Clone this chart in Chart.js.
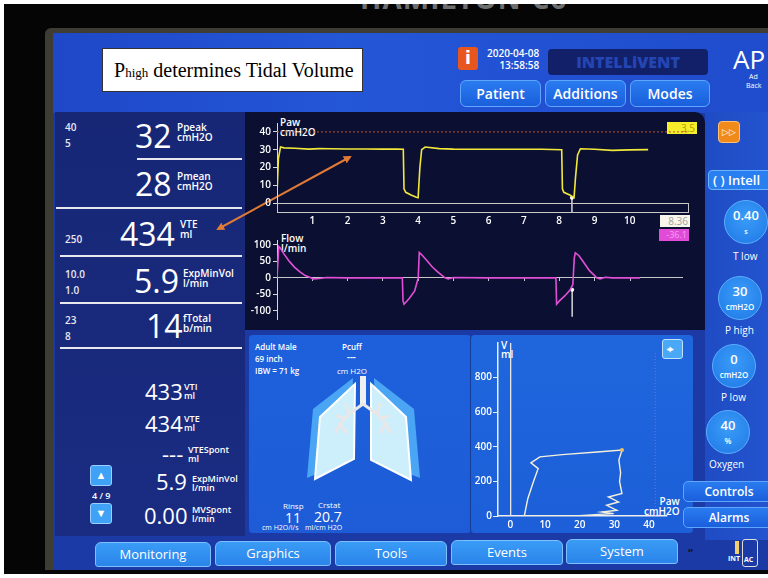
<!DOCTYPE html>
<html><head><meta charset="utf-8">
<script src="https://cdn.jsdelivr.net/npm/chart.js@4.4.1/dist/chart.umd.min.js"></script>
<style>
html,body{margin:0;padding:0;background:#fff;width:768px;height:578px;overflow:hidden;}
#photo{position:absolute;left:4px;top:4px;width:764px;height:570px;background:#050505;overflow:hidden;}
.abs{position:absolute;}
.t{position:absolute;color:#fff;font-family:"Open Sans",sans-serif;white-space:nowrap;}
.big{font-family:"Open Sans",sans-serif;font-weight:500;color:#fff;position:absolute;white-space:nowrap;line-height:1;}
.lbl{font-size:10px;font-weight:600;line-height:10px;}
.lim{font-size:10px;font-weight:600;color:#e8e8f0;}
.sep{position:absolute;height:2px;background:#e8e8ee;}
.btn{position:absolute;border-radius:6px;background:linear-gradient(#2a7bf0,#1a5fdc);border:1px solid #5fa6ff;color:#fff;font-family:"Open Sans",sans-serif;font-weight:600;font-size:14px;text-align:center;box-sizing:border-box;}
.tab{position:absolute;border-radius:6px 6px 3px 3px;background:linear-gradient(#3a9cf6,#2a84ea);border:1px solid #7cc0ff;color:#fff;font-family:"Open Sans",sans-serif;font-size:13px;text-align:center;box-sizing:border-box;}
.circ{position:absolute;border-radius:50%;background:radial-gradient(circle at 50% 40%,#3a9cf8,#1f78e6);border:1px solid #5cb0ff;color:#fff;font-family:"Open Sans",sans-serif;text-align:center;box-sizing:border-box;}
canvas{position:absolute;}
</style></head>
<body>
<div id="photo">
  <!-- brand text on bezel -->
  <div class="t" style="left:356px;top:-25px;font-size:28px;font-weight:700;color:#6e6e6e;letter-spacing:1px;">HAMILTON-C6</div>
  <!-- bezel frame -->
  <div class="abs" style="left:41px;top:24px;width:730px;height:560px;background:#3d3d33;border-radius:6px 0 0 0;"></div>
  <!-- screen -->
  <div class="abs" style="left:49px;top:29px;width:720px;height:540px;background:#1c3aa6;"></div>
  <!-- header -->
  <div class="abs" style="left:49px;top:29px;width:720px;height:80px;background:linear-gradient(90deg,#1e48c8,#2456d8 40%,#1f4ccc);"></div>
  <!-- label box -->
  <div class="abs" style="left:98px;top:44px;width:261px;height:44px;background:#fff;border:1px solid #333;box-sizing:border-box;font-family:'Liberation Serif',serif;font-size:20px;color:#000;line-height:42px;padding-left:11px;white-space:nowrap;">P<span style="font-size:13px;">high</span> determines Tidal Volume</div>
  <!-- info icon -->
  <div class="abs" style="left:454px;top:43px;width:20px;height:23px;background:#e8561f;border-radius:3px;color:#fff;font-family:'DejaVu Sans';font-weight:700;font-size:17px;text-align:center;line-height:23px;">i</div>
  <div class="t" style="left:483px;top:43px;font-size:10px;font-weight:600;line-height:12px;text-align:right;">2020-04-08<br>13:58:58</div>
  <div class="abs" style="left:544px;top:45px;width:160px;height:26px;background:#12206a;border-radius:4px;color:#2446b4;font-family:'Open Sans';font-weight:800;font-size:16px;text-align:center;line-height:26px;">INTELLiVENT</div>
  <div class="t" style="left:729px;top:37px;font-size:26px;font-weight:500;">AP</div>
  <div class="t" style="left:745px;top:68px;font-size:7px;">Ad</div>
  <div class="t" style="left:742px;top:77px;font-size:7px;">Back</div>
  <div class="btn" style="left:456px;top:76px;width:81px;height:27px;line-height:25px;">Patient</div>
  <div class="btn" style="left:541px;top:76px;width:81px;height:27px;line-height:25px;">Additions</div>
  <div class="btn" style="left:626px;top:76px;width:80px;height:27px;line-height:25px;">Modes</div>

  <!-- left panel -->
  <div class="abs" style="left:51px;top:108px;width:190px;height:424px;background:linear-gradient(#172776,#1a2c82);"></div>
  <div class="t lim" style="left:61px;top:116px;">40</div>
  <div class="t lim" style="left:61px;top:132px;">5</div>
  <div class="big" style="left:131px;top:116px;font-size:32px;">32</div>
  <div class="t lbl" style="left:173px;top:118px;">Ppeak<br>cmH2O</div>
  <div class="sep" style="left:133px;top:154px;width:105px;"></div>
  <div class="big" style="left:131px;top:164px;font-size:32px;">28</div>
  <div class="t lbl" style="left:173px;top:167px;">Pmean<br>cmH2O</div>
  <div class="sep" style="left:52px;top:203px;width:186px;"></div>
  <div class="t lim" style="left:61px;top:228px;">250</div>
  <div class="big" style="left:116px;top:214px;font-size:32px;">434</div>
  <div class="t lbl" style="left:176px;top:215px;">VTE<br>ml</div>
  <div class="sep" style="left:56px;top:251px;width:182px;"></div>
  <div class="t lim" style="left:61px;top:263px;">10.0</div>
  <div class="t lim" style="left:61px;top:279px;">1.0</div>
  <div class="big" style="left:130px;top:261px;font-size:32px;">5.9</div>
  <div class="t lbl" style="left:179px;top:264px;">ExpMinVol<br>l/min</div>
  <div class="sep" style="left:56px;top:298px;width:182px;"></div>
  <div class="t lim" style="left:61px;top:309px;">23</div>
  <div class="t lim" style="left:61px;top:325px;">8</div>
  <div class="big" style="left:142px;top:306px;font-size:32px;">14</div>
  <div class="t lbl" style="left:179px;top:309px;">fTotal<br>b/min</div>
  <div class="sep" style="left:56px;top:343px;width:182px;"></div>

  <div class="big" style="left:141px;top:376px;font-size:22px;">433</div>
  <div class="t lbl" style="left:180px;top:378px;font-size:9px;line-height:9px;">VTI<br>ml</div>
  <div class="big" style="left:141px;top:408px;font-size:22px;">434</div>
  <div class="t lbl" style="left:180px;top:410px;font-size:9px;line-height:9px;">VTE<br>ml</div>
  <div class="big" style="left:158px;top:438px;font-size:22px;">---</div>
  <div class="t lbl" style="left:184px;top:441px;font-size:9px;line-height:9px;">VTESpont<br>ml</div>
  <div class="big" style="left:152px;top:466px;font-size:22px;">5.9</div>
  <div class="t lbl" style="left:188px;top:470px;font-size:9px;line-height:9px;">ExpMinVol<br>l/min</div>
  <div class="big" style="left:140px;top:500px;font-size:22px;">0.00</div>
  <div class="t lbl" style="left:188px;top:501px;font-size:9px;line-height:9px;">MVSpont<br>l/min</div>
  <div class="abs" style="left:86px;top:461px;width:20px;height:19px;background:#3fa2f6;border:1px solid #9ad0ff;border-radius:3px;color:#fff;font-size:11px;text-align:center;line-height:19px;">&#9650;</div>
  <div class="t" style="left:88px;top:485px;font-size:9px;font-weight:600;">4 / 9</div>
  <div class="abs" style="left:86px;top:499px;width:20px;height:19px;background:#3fa2f6;border:1px solid #9ad0ff;border-radius:3px;color:#fff;font-size:11px;text-align:center;line-height:19px;">&#9660;</div>

  <!-- waveform panel -->
  <div class="abs" style="left:241px;top:108px;width:460px;height:218px;background:#0b1032;border-radius:0 10px 0 0;"></div>
  <div class="t" style="left:276px;top:113px;font-size:10px;font-weight:600;line-height:10px;">Paw<br>cmH2O</div>
  <div class="t" style="left:277px;top:229px;font-size:10px;font-weight:600;line-height:10px;">Flow<br>l/min</div>
  <div class="abs" style="left:663px;top:118px;width:30px;height:12px;background:#f6ee2a;color:#b0a000;font-size:10px;font-family:'Open Sans';text-align:right;line-height:12px;padding-right:2px;box-sizing:border-box;">3.5</div>
  <div class="abs" style="left:656px;top:211px;width:30px;height:12px;background:#f8f6ea;color:#a0a0a0;font-size:10px;font-family:'Open Sans';text-align:right;line-height:12px;padding-right:2px;box-sizing:border-box;">8.36</div>
  <div class="abs" style="left:655px;top:225px;width:30px;height:12px;background:#e24ad8;color:#f0a0f0;font-size:9px;font-family:'Open Sans';text-align:right;line-height:12px;padding-right:2px;box-sizing:border-box;">-36.1</div>

  <!-- lung panel -->
  <div class="abs" style="left:245px;top:331px;width:222px;height:198px;background:linear-gradient(#1e60dc,#1d5cd6);border-radius:4px;"></div>
  <div class="t" style="left:251px;top:337px;font-size:8px;font-weight:600;line-height:12px;">Adult Male<br>69 inch<br>IBW = 71 kg</div>
  <div class="t" style="left:338px;top:337px;font-size:8px;font-weight:600;">Pcuff</div>
  <div class="t" style="left:343px;top:346px;font-size:9px;font-weight:700;">---</div>
  <div class="t" style="left:333px;top:361px;font-size:8px;">cm H2O</div>
  <svg class="abs" style="left:245px;top:331px;" width="222" height="198" viewBox="245 331 222 198">
    <polygon points="349,374 309,405 303,474 346,456" fill="#4aa6f4"/>
    <polygon points="370,374 410,405 416,474 372,457" fill="#4aa6f4"/>
    <polygon points="351,380 316,413 311,475 350,455" fill="#cdeefb" stroke="#fff" stroke-width="2"/>
    <polygon points="367,380 402,413 407,476 367,456" fill="#cdeefb" stroke="#fff" stroke-width="2"/>
    <rect x="356" y="372" width="6" height="30" fill="#f0f0f0"/>
    <path d="M359,400 L345,410 L336,420 M345,410 L342,400 M336,420 L332,428 M336,420 L342,428 M340,414 L333,412 M359,400 L373,410 L382,420 M373,410 L376,400 M382,420 L386,428 M382,420 L376,428 M378,414 L385,412" stroke="#e8e8e8" stroke-width="3" fill="none" stroke-linecap="round"/>
  </svg>
  <div class="t" style="left:279px;top:496px;font-size:8px;">Rinsp</div>
  <div class="t" style="left:314px;top:495px;font-size:8px;">Crstat</div>
  <div class="t" style="left:281px;top:504px;font-size:14px;font-weight:500;">11</div>
  <div class="t" style="left:310px;top:503px;font-size:14px;font-weight:500;">20.7</div>
  <div class="t" style="left:258px;top:519px;font-size:7px;">cm H2O/l/s</div>
  <div class="t" style="left:301px;top:519px;font-size:7px;">ml/cm H2O</div>

  <!-- loop panel -->
  <div class="abs" style="left:466px;top:331px;width:222px;height:198px;background:linear-gradient(#1f66dd,#1c5fd8);border-radius:4px;border-left:1px solid #163c9a;"></div>
  <div class="abs" style="left:658px;top:335px;width:19px;height:18px;background:#49a9f6;border:1px solid #bfe2ff;border-radius:3px;"></div>
  <div class="t" style="left:663px;top:337px;font-size:11px;font-weight:700;">&#8982;</div>
  <div class="t" style="left:497px;top:337px;font-size:10px;font-weight:600;line-height:9px;">V<br>ml</div>
  <div class="t" style="left:640px;top:492px;font-size:10px;font-weight:600;line-height:10px;text-align:right;">Paw<br>cmH2O</div>

  <!-- right column -->
  <div class="abs" style="left:701px;top:108px;width:70px;height:428px;background:linear-gradient(90deg,#1f4cc4,#2454d0);"></div>
  <div class="abs" style="left:714px;top:117px;width:20px;height:20px;background:#f08a1a;border:1px solid #ffc070;border-radius:4px;color:#fff;font-size:9px;text-align:center;line-height:20px;">&#9655;&#9655;</div>
  <div class="abs" style="left:704px;top:166px;width:70px;height:20px;background:#2a7ff0;border:1px solid #6ab4ff;border-radius:4px;color:#fff;font-family:'Open Sans';font-weight:600;font-size:13px;line-height:19px;padding-left:4px;box-sizing:border-box;">( ) Intell</div>
  <div class="circ" style="left:720px;top:196px;width:44px;height:44px;font-size:13px;font-weight:600;padding-top:7px;line-height:14px;">0.40<br><span style="font-size:7px;">s</span></div>
  <div class="t" style="left:729px;top:245px;font-size:10px;">T low</div>
  <div class="circ" style="left:714px;top:272px;width:44px;height:44px;font-size:13px;font-weight:600;padding-top:7px;line-height:14px;">30<br><span style="font-size:8px;">cmH2O</span></div>
  <div class="t" style="left:721px;top:319px;font-size:10px;">P high</div>
  <div class="circ" style="left:708px;top:340px;width:44px;height:44px;font-size:13px;font-weight:600;padding-top:7px;line-height:14px;">0<br><span style="font-size:8px;">cmH2O</span></div>
  <div class="t" style="left:717px;top:386px;font-size:10px;">P low</div>
  <div class="circ" style="left:702px;top:406px;width:44px;height:44px;font-size:13px;font-weight:600;padding-top:7px;line-height:14px;">40<br><span style="font-size:8px;">%</span></div>
  <div class="t" style="left:705px;top:453px;font-size:10px;">Oxygen</div>
  <div class="btn" style="left:679px;top:477px;width:92px;height:21px;line-height:19px;font-size:12px;border-radius:5px 0 0 5px;">Controls</div>
  <div class="btn" style="left:679px;top:503px;width:92px;height:21px;line-height:19px;font-size:12px;border-radius:5px 0 0 5px;">Alarms</div>

  <!-- bottom tabs -->
  <div class="tab" style="left:91px;top:538px;width:116px;height:25px;line-height:23px;">Monitoring</div>
  <div class="tab" style="left:211px;top:537px;width:116px;height:25px;line-height:23px;">Graphics</div>
  <div class="tab" style="left:331px;top:537px;width:112px;height:25px;line-height:23px;">Tools</div>
  <div class="tab" style="left:447px;top:536px;width:112px;height:25px;line-height:23px;">Events</div>
  <div class="tab" style="left:562px;top:535px;width:112px;height:25px;line-height:23px;">System</div>
  <div class="t" style="left:684px;top:541px;font-size:11px;font-weight:700;color:#111;">&#8220;</div>
  <div class="abs" style="left:731px;top:537px;width:4px;height:13px;background:#f0d070;"></div>
  <div class="t" style="left:724px;top:550px;font-size:7px;font-weight:700;">INT</div>
  <div class="abs" style="left:738px;top:535px;width:14px;height:26px;border:1px solid #ddd;border-radius:3px;"></div>
  <div class="t" style="left:740px;top:551px;font-size:7px;font-weight:700;">AC</div>
  <div class="abs" style="left:0;top:566px;width:770px;height:10px;background:#070707;"></div>

  <!-- annotation arrow -->
  <svg class="abs" style="left:0;top:0;" width="768" height="578">
    <defs>
      <marker id="ah" markerWidth="8" markerHeight="8" refX="6" refY="4" orient="auto-start-reverse" markerUnits="userSpaceOnUse">
        <path d="M0,0 L8,4 L0,8 z" fill="#e07a36"/>
      </marker>
    </defs>
    <line x1="214" y1="225" x2="346" y2="153" stroke="#e07a36" stroke-width="2" marker-start="url(#ah)" marker-end="url(#ah)"/>
  </svg>
</div>
<canvas id="paw" width="455" height="113" style="left:245px;top:115px;width:455px;height:113px;"></canvas>
<canvas id="flow" width="455" height="95" style="left:245px;top:232px;width:455px;height:95px;"></canvas>
<canvas id="loop" width="220" height="197" style="left:470px;top:335px;width:220px;height:197px;"></canvas>
<script>
// ---- data ----
const pawTime  = [0, 0.04, 0.1, 0.2, 0.5, 0.9, 1.2, 1.5, 2.0, 2.5, 3.0, 3.4, 3.58, 3.6, 3.65, 3.8, 3.95, 4.0, 4.05, 4.1, 4.2, 4.6, 5.0, 6.0, 7.0, 7.5, 8.07, 8.09, 8.13, 8.3, 8.42, 8.46, 8.52, 8.6, 9.0, 9.5, 10.0, 10.52];
const pawValue = [5, 25, 31.5, 31, 30.8, 30.3, 30.6, 30.5, 30.4, 30.4, 30.3, 30.3, 30.2, 8, 6, 4.5, 3.2, 3, 20, 30, 31.5, 30.6, 30.3, 30.2, 30.2, 30.2, 30, 8, 6, 4.5, 3, 14, 27, 30.5, 30.2, 29.6, 29.9, 30];
const flowTime  = [0, 0.05, 0.1, 0.2, 0.35, 0.5, 0.65, 0.8, 0.96, 1.02, 1.2, 1.4, 2.0, 3.0, 3.55, 3.57, 3.6, 3.75, 3.9, 3.97, 4.0, 4.03, 4.1, 4.25, 4.4, 4.55, 4.76, 4.85, 5.0, 6.0, 7.0, 7.9, 7.92, 8.0, 8.15, 8.3, 8.38, 8.42, 8.45, 8.55, 8.7, 8.85, 9.06, 9.15, 9.3, 9.5, 10.28];
const flowValue = [0, 95, 90, 72, 50, 32, 18, 7, 0, -3, -2, 1, 0, 0, 0, -70, -80, -62, -40, -12, 0, 77, 70, 52, 33, 18, 0, -3, 1, 0, 0, 0, -80, -70, -55, -37, -20, 60, 76, 68, 45, 22, 0, -3, 2, 0, 0];
const loopPaw = [4.0, 5.0, 6.6, 8.0, 5.9, 8.5, 15, 25, 32.2, 31.3, 31.8, 31.5, 32.2, 28.3, 31.2, 27.8, 30.7, 26.4, 29.8, 24.4, 20, 10, 4.0];
const loopVol = [0, 100, 197, 274, 307, 342, 355, 370, 381, 323, 250, 200, 130, 110, 81, 62, 33, 23, 14, 8, 2, 0, 0];
const pawAlarmHigh = 40;
const cursorTime = 8.36;
const cursorPaw = 3;
const cursorFlow = -36;
const pawYTicks = [0, 10, 20, 30, 40];
const timeTicks = [1, 2, 3, 4, 5, 6, 7, 8, 9, 10];
const flowYTicks = [-100, -50, 0, 50, 100];
const loopVolTicks = [0, 200, 400, 600, 800];
const loopPawTicks = [0, 10, 20, 30, 40];
const loopLimitPaw = 41.8;

const pts = (xs, ys) => xs.map((x, i) => ({x, y: ys[i]}));
const setTicks = arr => s => { s.ticks = arr.map(v => ({value: v})); };
const tickFont = {family: 'Open Sans', size: 10, weight: '600'};

const bandPlugin = {
  id: 'band',
  afterDatasetsDraw(chart) {
    const {ctx, chartArea: a} = chart;
    ctx.save();
    ctx.strokeStyle = '#c8c8c8';
    ctx.lineWidth = 1;
    ctx.strokeRect(a.left + 0.5, a.bottom + 0.5, a.right - a.left, 9);
    ctx.restore();
  }
};

new Chart(document.getElementById('paw'), {
  type: 'line',
  data: { datasets: [
    { data: pts(pawTime, pawValue), borderColor: '#f2e83a', borderWidth: 1.6, pointRadius: 0, tension: 0 },
    { data: pts([0, 11.65], [pawAlarmHigh, pawAlarmHigh]), borderColor: '#c4552c', borderWidth: 1, borderDash: [2, 2], pointRadius: 0 },
    { data: pts([cursorTime, cursorTime], [cursorPaw, -5]), borderColor: '#f4f4f4', borderWidth: 1.3, pointRadius: [2, 0], pointBackgroundColor: '#fff', pointBorderWidth: 0, clip: false }
  ]},
  options: {
    responsive: false, animation: false, events: [],
    layout: { autoPadding: false, padding: { top: 7, right: 12, left: 0, bottom: 0 } },
    plugins: { legend: { display: false }, tooltip: { enabled: false } },
    scales: {
      x: { type: 'linear', min: 0, max: 11.65, afterBuildTicks: setTicks(timeTicks),
           afterFit: s => { s.height = 25; },
           grid: { display: false, drawTicks: false }, border: { color: '#c8c8c8' },
           ticks: { color: '#fff', font: tickFont, padding: 12, maxRotation: 0 } },
      y: { min: 0, max: 45, afterBuildTicks: setTicks(pawYTicks),
           afterFit: s => { s.width = 32; },
           grid: { drawOnChartArea: false, drawTicks: true, tickLength: 4, tickColor: '#d8d8d8' },
           border: { color: '#d8d8d8' },
           ticks: { color: '#fff', font: tickFont, padding: 2 } }
    }
  },
  plugins: [bandPlugin]
});

new Chart(document.getElementById('flow'), {
  type: 'line',
  data: { datasets: [
    { data: pts(flowTime, flowValue), borderColor: '#e24fd6', borderWidth: 1.6, pointRadius: 0, tension: 0 },
    { data: pts([cursorTime, cursorTime], [cursorFlow, -118]), borderColor: '#f4f4f4', borderWidth: 1.3, pointRadius: [2, 0], pointBackgroundColor: '#fff', pointBorderWidth: 0, clip: false }
  ]},
  options: {
    responsive: false, animation: false, events: [],
    layout: { autoPadding: false, padding: { top: 4, right: 17, left: 0, bottom: 6 } },
    plugins: { legend: { display: false }, tooltip: { enabled: false } },
    scales: {
      x: { type: 'linear', min: 0, max: 11.5, position: { y: 0 }, afterBuildTicks: setTicks(timeTicks),
           ticks: { display: false },
           grid: { drawOnChartArea: false, drawTicks: true, tickLength: 3, color: '#c8c8c8', tickColor: '#c8c8c8' },
           border: { display: false } },
      y: { min: -125, max: 115, afterBuildTicks: setTicks(flowYTicks),
           afterFit: s => { s.width = 32; },
           grid: { color: c => (c.tick && c.tick.value === 0) ? '#c8c8c8' : 'rgba(0,0,0,0)', drawTicks: true, tickLength: 4, tickColor: '#d8d8d8' },
           border: { color: '#d8d8d8' },
           ticks: { color: '#fff', font: tickFont, padding: 2 } }
    }
  }
});

new Chart(document.getElementById('loop'), {
  type: 'line',
  data: { datasets: [
    { data: pts(loopPaw, loopVol), borderColor: '#f5f0dc', borderWidth: 1.4, pointRadius: loopPaw.map((p, i) => i === 8 ? 2 : 0), pointBackgroundColor: '#f2c060', pointBorderWidth: 0, tension: 0 },
    { data: pts([loopLimitPaw, loopLimitPaw], [0, 950]), borderColor: 'rgba(210,120,200,0.55)', borderWidth: 1, borderDash: [1, 2], pointRadius: 0 }
  ]},
  options: {
    responsive: false, animation: false, events: [],
    layout: { autoPadding: false, padding: { top: 8, right: 23, left: 0, bottom: 0 } },
    plugins: { legend: { display: false }, tooltip: { enabled: false } },
    scales: {
      x: { type: 'linear', min: -3.6, max: 45.2, afterBuildTicks: setTicks(loopPawTicks),
           afterFit: s => { s.height = 16; },
           grid: { color: c => (c.tick && c.tick.value === 0) ? '#e6e6e6' : 'rgba(0,0,0,0)', drawTicks: false, lineWidth: 1.3 },
           border: { color: '#eeeeee', width: 1.5 },
           ticks: { color: '#fff', font: tickFont, padding: 3, maxRotation: 0 } },
      y: { min: 0, max: 1000, afterBuildTicks: setTicks(loopVolTicks),
           afterFit: s => { s.width = 28; },
           grid: { drawOnChartArea: false, drawTicks: true, tickLength: 5, tickColor: '#eeeeee' },
           border: { color: '#eeeeee', width: 1.5 },
           ticks: { color: '#fff', font: tickFont, padding: 1 } }
    }
  }
});
</script>
</body></html>
